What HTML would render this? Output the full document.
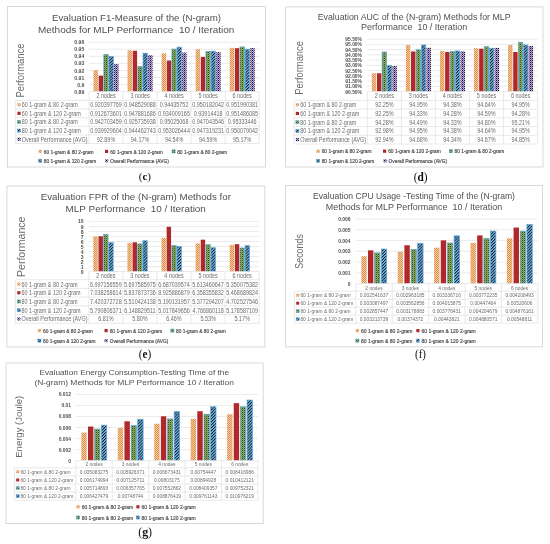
<!DOCTYPE html>
<html><head><meta charset="utf-8"><style>
html,body{margin:0;padding:0;background:#fff;}
svg{display:block;}
text{font-family:'Liberation Sans', Arial, sans-serif;white-space:pre;}
</style></head><body>
<svg width="550" height="544" viewBox="0 0 550 544">
<defs>
<pattern id="pO" width="2" height="2" patternUnits="userSpaceOnUse"><rect width="2" height="2" fill="#f9cc9c"/><rect width="1" height="1" fill="#d98f52"/><rect x="1" y="1" width="1" height="1" fill="#d98f52"/></pattern>
<pattern id="pR" width="2" height="2" patternUnits="userSpaceOnUse"><rect width="2" height="2" fill="#b0282a"/></pattern>
<pattern id="pG" width="2" height="2" patternUnits="userSpaceOnUse"><rect width="2" height="2" fill="#8aac5c"/><rect width="1" height="1" fill="#34502a"/><rect x="1" y="1" width="1" height="1" fill="#6f9048"/></pattern>
<pattern id="pB" width="2.1" height="2.1" patternUnits="userSpaceOnUse" patternTransform="rotate(45)"><rect width="2.1" height="2.1" fill="#7cc0f4"/><rect width="0.95" height="2.1" fill="#0e1822"/></pattern>
<pattern id="pP" width="2" height="2" patternUnits="userSpaceOnUse"><rect width="2" height="2" fill="#c0a4e0"/><rect width="1" height="1" fill="#120e1c"/><rect x="1" y="1" width="1" height="1" fill="#7a62a0"/></pattern>
</defs>
<rect width="550" height="544" fill="#fff"/>
<rect x="7.5" y="6.5" width="258" height="160.5" fill="#fff" stroke="#d9d9d9" stroke-width="1"/>
<text x="52.00" y="20.70" font-size="9.6" textLength="169.00" lengthAdjust="spacingAndGlyphs" fill="#505050">Evaluation F1-Measure of the (N-gram)</text>
<text x="38.00" y="33.00" font-size="9.6" textLength="196.30" lengthAdjust="spacingAndGlyphs" fill="#505050">Methods for MLP Performance  10 / Iteration</text>
<text transform="translate(24.10,97.60) rotate(-90)" x="0" y="0" font-size="10" textLength="54.10" lengthAdjust="spacingAndGlyphs" fill="#6a6a6a">Performance</text>
<line x1="89" x2="259.2" y1="42.20" y2="42.20" stroke="#e3e3e3" stroke-width="0.7"/>
<text x="84.30" y="44.29" font-size="5.8" text-anchor="end" textLength="9.93" lengthAdjust="spacingAndGlyphs" fill="#505050" font-weight="bold">0.96</text>
<line x1="89" x2="259.2" y1="49.26" y2="49.26" stroke="#e3e3e3" stroke-width="0.7"/>
<text x="84.30" y="51.35" font-size="5.8" text-anchor="end" textLength="9.93" lengthAdjust="spacingAndGlyphs" fill="#505050" font-weight="bold">0.95</text>
<line x1="89" x2="259.2" y1="56.31" y2="56.31" stroke="#e3e3e3" stroke-width="0.7"/>
<text x="84.30" y="58.40" font-size="5.8" text-anchor="end" textLength="9.93" lengthAdjust="spacingAndGlyphs" fill="#505050" font-weight="bold">0.94</text>
<line x1="89" x2="259.2" y1="63.37" y2="63.37" stroke="#e3e3e3" stroke-width="0.7"/>
<text x="84.30" y="65.46" font-size="5.8" text-anchor="end" textLength="9.93" lengthAdjust="spacingAndGlyphs" fill="#505050" font-weight="bold">0.93</text>
<line x1="89" x2="259.2" y1="70.43" y2="70.43" stroke="#e3e3e3" stroke-width="0.7"/>
<text x="84.30" y="72.52" font-size="5.8" text-anchor="end" textLength="9.93" lengthAdjust="spacingAndGlyphs" fill="#505050" font-weight="bold">0.92</text>
<line x1="89" x2="259.2" y1="77.49" y2="77.49" stroke="#e3e3e3" stroke-width="0.7"/>
<text x="84.30" y="79.57" font-size="5.8" text-anchor="end" textLength="9.93" lengthAdjust="spacingAndGlyphs" fill="#505050" font-weight="bold">0.91</text>
<line x1="89" x2="259.2" y1="84.54" y2="84.54" stroke="#e3e3e3" stroke-width="0.7"/>
<text x="84.30" y="86.63" font-size="5.8" text-anchor="end" textLength="7.10" lengthAdjust="spacingAndGlyphs" fill="#505050" font-weight="bold">0.9</text>
<text x="84.30" y="93.69" font-size="5.8" text-anchor="end" textLength="9.93" lengthAdjust="spacingAndGlyphs" fill="#505050" font-weight="bold">0.89</text>
<rect x="93.52" y="70.15" width="4.4" height="21.45" fill="url(#pO)" />
<rect x="98.67" y="75.60" width="4.4" height="16.00" fill="url(#pR)" />
<rect x="103.82" y="54.41" width="4.4" height="37.19" fill="url(#pG)" stroke="#5aa8d8" stroke-width="0.7"/>
<rect x="108.97" y="56.36" width="4.4" height="35.24" fill="url(#pB)" stroke="#5aa8d8" stroke-width="0.7"/>
<rect x="114.12" y="64.15" width="4.4" height="27.45" fill="url(#pP)" />
<rect x="127.56" y="50.30" width="4.4" height="41.30" fill="url(#pO)" />
<rect x="132.71" y="50.75" width="4.4" height="40.85" fill="url(#pR)" />
<rect x="137.86" y="66.38" width="4.4" height="25.22" fill="url(#pG)" stroke="#5aa8d8" stroke-width="0.7"/>
<rect x="143.01" y="53.16" width="4.4" height="38.44" fill="url(#pB)" stroke="#5aa8d8" stroke-width="0.7"/>
<rect x="148.16" y="55.11" width="4.4" height="36.49" fill="url(#pP)" />
<rect x="161.60" y="53.24" width="4.4" height="38.36" fill="url(#pO)" />
<rect x="166.75" y="60.54" width="4.4" height="31.06" fill="url(#pR)" />
<rect x="171.90" y="49.08" width="4.4" height="42.52" fill="url(#pG)" stroke="#5aa8d8" stroke-width="0.7"/>
<rect x="177.05" y="47.12" width="4.4" height="44.48" fill="url(#pB)" stroke="#5aa8d8" stroke-width="0.7"/>
<rect x="182.20" y="52.50" width="4.4" height="39.10" fill="url(#pP)" />
<rect x="195.64" y="49.13" width="4.4" height="42.47" fill="url(#pO)" />
<rect x="200.79" y="56.92" width="4.4" height="34.68" fill="url(#pR)" />
<rect x="205.94" y="51.34" width="4.4" height="40.26" fill="url(#pG)" stroke="#5aa8d8" stroke-width="0.7"/>
<rect x="211.09" y="51.15" width="4.4" height="40.45" fill="url(#pB)" stroke="#5aa8d8" stroke-width="0.7"/>
<rect x="216.24" y="52.15" width="4.4" height="39.45" fill="url(#pP)" />
<rect x="229.68" y="47.85" width="4.4" height="43.75" fill="url(#pO)" />
<rect x="234.83" y="48.21" width="4.4" height="43.39" fill="url(#pR)" />
<rect x="239.98" y="46.90" width="4.4" height="44.70" fill="url(#pG)" stroke="#5aa8d8" stroke-width="0.7"/>
<rect x="245.13" y="49.20" width="4.4" height="42.40" fill="url(#pB)" stroke="#5aa8d8" stroke-width="0.7"/>
<rect x="250.28" y="48.06" width="4.4" height="43.54" fill="url(#pP)" />
<g stroke="#e3e3e3" stroke-width="0.8">
<line x1="89" x2="259.2" y1="91.60" y2="91.60"/>
<line x1="15.6" x2="259.2" y1="100.40" y2="100.40"/>
<line x1="15.6" x2="259.2" y1="109.02" y2="109.02"/>
<line x1="15.6" x2="259.2" y1="117.64" y2="117.64"/>
<line x1="15.6" x2="259.2" y1="126.26" y2="126.26"/>
<line x1="15.6" x2="259.2" y1="134.88" y2="134.88"/>
<line x1="15.6" x2="259.2" y1="143.50" y2="143.50"/>
<line x1="15.6" x2="15.6" y1="100.40" y2="143.50"/>
<line x1="89.00" x2="89.00" y1="91.60" y2="143.50"/>
<line x1="123.04" x2="123.04" y1="91.60" y2="143.50"/>
<line x1="157.08" x2="157.08" y1="91.60" y2="143.50"/>
<line x1="191.12" x2="191.12" y1="91.60" y2="143.50"/>
<line x1="225.16" x2="225.16" y1="91.60" y2="143.50"/>
<line x1="259.20" x2="259.20" y1="91.60" y2="143.50"/>
</g>
<text x="106.02" y="98.39" font-size="6.3" text-anchor="middle" textLength="19.28" lengthAdjust="spacingAndGlyphs" fill="#6c6c6c">2 nodes</text>
<text x="106.02" y="107.23" font-size="6.3" text-anchor="middle" textLength="31.64" lengthAdjust="spacingAndGlyphs" fill="#6c6c6c">0.920397769</text>
<text x="106.02" y="115.85" font-size="6.3" text-anchor="middle" textLength="31.64" lengthAdjust="spacingAndGlyphs" fill="#6c6c6c">0.912673601</text>
<text x="106.02" y="124.47" font-size="6.3" text-anchor="middle" textLength="31.64" lengthAdjust="spacingAndGlyphs" fill="#6c6c6c">0.942703459</text>
<text x="106.02" y="133.09" font-size="6.3" text-anchor="middle" textLength="31.64" lengthAdjust="spacingAndGlyphs" fill="#6c6c6c">0.939929604</text>
<text x="106.02" y="141.71" font-size="6.3" text-anchor="middle" textLength="18.38" lengthAdjust="spacingAndGlyphs" fill="#6c6c6c">92.89%</text>
<text x="140.06" y="98.39" font-size="6.3" text-anchor="middle" textLength="19.28" lengthAdjust="spacingAndGlyphs" fill="#6c6c6c">3 nodes</text>
<text x="140.06" y="107.23" font-size="6.3" text-anchor="middle" textLength="31.64" lengthAdjust="spacingAndGlyphs" fill="#6c6c6c">0.948529088</text>
<text x="140.06" y="115.85" font-size="6.3" text-anchor="middle" textLength="31.64" lengthAdjust="spacingAndGlyphs" fill="#6c6c6c">0.947881686</text>
<text x="140.06" y="124.47" font-size="6.3" text-anchor="middle" textLength="31.64" lengthAdjust="spacingAndGlyphs" fill="#6c6c6c">0.925735938</text>
<text x="140.06" y="133.09" font-size="6.3" text-anchor="middle" textLength="31.64" lengthAdjust="spacingAndGlyphs" fill="#6c6c6c">0.944462743</text>
<text x="140.06" y="141.71" font-size="6.3" text-anchor="middle" textLength="18.38" lengthAdjust="spacingAndGlyphs" fill="#6c6c6c">94.17%</text>
<text x="174.10" y="98.39" font-size="6.3" text-anchor="middle" textLength="19.28" lengthAdjust="spacingAndGlyphs" fill="#6c6c6c">4 nodes</text>
<text x="174.10" y="107.23" font-size="6.3" text-anchor="middle" textLength="28.62" lengthAdjust="spacingAndGlyphs" fill="#6c6c6c">0.94435752</text>
<text x="174.10" y="115.85" font-size="6.3" text-anchor="middle" textLength="31.64" lengthAdjust="spacingAndGlyphs" fill="#6c6c6c">0.934009165</text>
<text x="174.10" y="124.47" font-size="6.3" text-anchor="middle" textLength="28.62" lengthAdjust="spacingAndGlyphs" fill="#6c6c6c">0.95025068</text>
<text x="174.10" y="133.09" font-size="6.3" text-anchor="middle" textLength="31.64" lengthAdjust="spacingAndGlyphs" fill="#6c6c6c">0.953026444</text>
<text x="174.10" y="141.71" font-size="6.3" text-anchor="middle" textLength="18.38" lengthAdjust="spacingAndGlyphs" fill="#6c6c6c">94.54%</text>
<text x="208.14" y="98.39" font-size="6.3" text-anchor="middle" textLength="19.28" lengthAdjust="spacingAndGlyphs" fill="#6c6c6c">5 nodes</text>
<text x="208.14" y="107.23" font-size="6.3" text-anchor="middle" textLength="31.64" lengthAdjust="spacingAndGlyphs" fill="#6c6c6c">0.950182042</text>
<text x="208.14" y="115.85" font-size="6.3" text-anchor="middle" textLength="28.62" lengthAdjust="spacingAndGlyphs" fill="#6c6c6c">0.93914418</text>
<text x="208.14" y="124.47" font-size="6.3" text-anchor="middle" textLength="31.64" lengthAdjust="spacingAndGlyphs" fill="#6c6c6c">0.947043546</text>
<text x="208.14" y="133.09" font-size="6.3" text-anchor="middle" textLength="31.64" lengthAdjust="spacingAndGlyphs" fill="#6c6c6c">0.947319231</text>
<text x="208.14" y="141.71" font-size="6.3" text-anchor="middle" textLength="18.38" lengthAdjust="spacingAndGlyphs" fill="#6c6c6c">94.59%</text>
<text x="242.18" y="98.39" font-size="6.3" text-anchor="middle" textLength="19.28" lengthAdjust="spacingAndGlyphs" fill="#6c6c6c">6 nodes</text>
<text x="242.18" y="107.23" font-size="6.3" text-anchor="middle" textLength="31.64" lengthAdjust="spacingAndGlyphs" fill="#6c6c6c">0.951990381</text>
<text x="242.18" y="115.85" font-size="6.3" text-anchor="middle" textLength="31.64" lengthAdjust="spacingAndGlyphs" fill="#6c6c6c">0.951486085</text>
<text x="242.18" y="124.47" font-size="6.3" text-anchor="middle" textLength="28.62" lengthAdjust="spacingAndGlyphs" fill="#6c6c6c">0.95333446</text>
<text x="242.18" y="133.09" font-size="6.3" text-anchor="middle" textLength="31.64" lengthAdjust="spacingAndGlyphs" fill="#6c6c6c">0.950079042</text>
<text x="242.18" y="141.71" font-size="6.3" text-anchor="middle" textLength="18.38" lengthAdjust="spacingAndGlyphs" fill="#6c6c6c">95.17%</text>
<rect x="17.40" y="103.11" width="3.2" height="3.2" fill="url(#pO)" />
<text x="21.80" y="107.23" font-size="6.3" textLength="56.01" lengthAdjust="spacingAndGlyphs" fill="#6c6c6c">60 1-gram &amp; 80 2-gram</text>
<rect x="17.40" y="111.73" width="3.2" height="3.2" fill="url(#pR)" />
<text x="21.80" y="115.85" font-size="6.3" textLength="59.02" lengthAdjust="spacingAndGlyphs" fill="#6c6c6c">60 1-gram &amp; 120 2-gram</text>
<rect x="17.40" y="120.35" width="3.2" height="3.2" fill="url(#pG)" stroke="#5aa8d8" stroke-width="0.5"/>
<text x="21.80" y="124.47" font-size="6.3" textLength="56.01" lengthAdjust="spacingAndGlyphs" fill="#6c6c6c">80 1-gram &amp; 80 2-gram</text>
<rect x="17.40" y="128.97" width="3.2" height="3.2" fill="url(#pB)" stroke="#5aa8d8" stroke-width="0.5"/>
<text x="21.80" y="133.09" font-size="6.3" textLength="59.02" lengthAdjust="spacingAndGlyphs" fill="#6c6c6c">80 1-gram &amp; 120 2-gram</text>
<rect x="17.40" y="137.59" width="3.2" height="3.2" fill="url(#pP)" />
<text x="21.80" y="141.71" font-size="6.3" textLength="65.84" lengthAdjust="spacingAndGlyphs" fill="#6c6c6c">Overall Performance (AVG)</text>
<rect x="38.60" y="149.80" width="3.2" height="3.2" fill="url(#pO)" />
<text x="43.80" y="153.60" font-size="6.1" textLength="49.82" lengthAdjust="spacingAndGlyphs" fill="#4a4a4a" stroke="#555" stroke-width="0.22">60 1-gram &amp; 80 2-gram</text>
<rect x="105.00" y="149.80" width="3.2" height="3.2" fill="url(#pR)" />
<text x="110.20" y="153.60" font-size="6.1" textLength="52.50" lengthAdjust="spacingAndGlyphs" fill="#4a4a4a" stroke="#555" stroke-width="0.22">60 1-gram &amp; 120 2-gram</text>
<rect x="172.00" y="149.80" width="3.2" height="3.2" fill="url(#pG)" stroke="#5aa8d8" stroke-width="0.5"/>
<text x="177.20" y="153.60" font-size="6.1" textLength="49.82" lengthAdjust="spacingAndGlyphs" fill="#4a4a4a" stroke="#555" stroke-width="0.22">80 1-gram &amp; 80 2-gram</text>
<rect x="38.60" y="159.20" width="3.2" height="3.2" fill="url(#pB)" stroke="#5aa8d8" stroke-width="0.5"/>
<text x="43.80" y="163.00" font-size="6.1" textLength="52.50" lengthAdjust="spacingAndGlyphs" fill="#4a4a4a" stroke="#555" stroke-width="0.22">80 1-gram &amp; 120 2-gram</text>
<rect x="105.00" y="159.20" width="3.2" height="3.2" fill="url(#pP)" />
<text x="110.20" y="163.00" font-size="6.1" textLength="58.56" lengthAdjust="spacingAndGlyphs" fill="#4a4a4a" stroke="#555" stroke-width="0.22">Overall Performance (AVG)</text>
<text x="138.70" y="180.24" font-size="11.22" textLength="12.30" lengthAdjust="spacingAndGlyphs" fill="#111" style="font-family:'Liberation Serif', 'Times New Roman', serif">(<tspan font-weight="bold">c</tspan>)</text>
<rect x="285.5" y="6.9" width="257.5" height="160.1" fill="#fff" stroke="#d9d9d9" stroke-width="1"/>
<text x="317.70" y="19.80" font-size="9.1" textLength="192.80" lengthAdjust="spacingAndGlyphs" fill="#505050">Evaluation AUC of the (N-gram) Methods for MLP</text>
<text x="361.00" y="30.00" font-size="9.1" textLength="106.30" lengthAdjust="spacingAndGlyphs" fill="#505050">Performance  10 / Iteration</text>
<text transform="translate(303.00,94.70) rotate(-90)" x="0" y="0" font-size="10" textLength="53.70" lengthAdjust="spacingAndGlyphs" fill="#6a6a6a">Performance</text>
<line x1="367.3" x2="537.6" y1="39.20" y2="39.20" stroke="#e3e3e3" stroke-width="0.7"/>
<text x="362.00" y="41.22" font-size="5.6" text-anchor="end" textLength="16.71" lengthAdjust="spacingAndGlyphs" fill="#505050" font-weight="bold">95.50%</text>
<line x1="367.3" x2="537.6" y1="44.44" y2="44.44" stroke="#e3e3e3" stroke-width="0.7"/>
<text x="362.00" y="46.46" font-size="5.6" text-anchor="end" textLength="16.71" lengthAdjust="spacingAndGlyphs" fill="#505050" font-weight="bold">95.00%</text>
<line x1="367.3" x2="537.6" y1="49.68" y2="49.68" stroke="#e3e3e3" stroke-width="0.7"/>
<text x="362.00" y="51.70" font-size="5.6" text-anchor="end" textLength="16.71" lengthAdjust="spacingAndGlyphs" fill="#505050" font-weight="bold">94.50%</text>
<line x1="367.3" x2="537.6" y1="54.92" y2="54.92" stroke="#e3e3e3" stroke-width="0.7"/>
<text x="362.00" y="56.94" font-size="5.6" text-anchor="end" textLength="16.71" lengthAdjust="spacingAndGlyphs" fill="#505050" font-weight="bold">94.00%</text>
<line x1="367.3" x2="537.6" y1="60.16" y2="60.16" stroke="#e3e3e3" stroke-width="0.7"/>
<text x="362.00" y="62.18" font-size="5.6" text-anchor="end" textLength="16.71" lengthAdjust="spacingAndGlyphs" fill="#505050" font-weight="bold">93.50%</text>
<line x1="367.3" x2="537.6" y1="65.40" y2="65.40" stroke="#e3e3e3" stroke-width="0.7"/>
<text x="362.00" y="67.42" font-size="5.6" text-anchor="end" textLength="16.71" lengthAdjust="spacingAndGlyphs" fill="#505050" font-weight="bold">93.00%</text>
<line x1="367.3" x2="537.6" y1="70.64" y2="70.64" stroke="#e3e3e3" stroke-width="0.7"/>
<text x="362.00" y="72.66" font-size="5.6" text-anchor="end" textLength="16.71" lengthAdjust="spacingAndGlyphs" fill="#505050" font-weight="bold">92.50%</text>
<line x1="367.3" x2="537.6" y1="75.88" y2="75.88" stroke="#e3e3e3" stroke-width="0.7"/>
<text x="362.00" y="77.90" font-size="5.6" text-anchor="end" textLength="16.71" lengthAdjust="spacingAndGlyphs" fill="#505050" font-weight="bold">92.00%</text>
<line x1="367.3" x2="537.6" y1="81.12" y2="81.12" stroke="#e3e3e3" stroke-width="0.7"/>
<text x="362.00" y="83.14" font-size="5.6" text-anchor="end" textLength="16.71" lengthAdjust="spacingAndGlyphs" fill="#505050" font-weight="bold">91.50%</text>
<line x1="367.3" x2="537.6" y1="86.36" y2="86.36" stroke="#e3e3e3" stroke-width="0.7"/>
<text x="362.00" y="88.38" font-size="5.6" text-anchor="end" textLength="16.71" lengthAdjust="spacingAndGlyphs" fill="#505050" font-weight="bold">91.00%</text>
<text x="362.00" y="93.62" font-size="5.6" text-anchor="end" textLength="16.71" lengthAdjust="spacingAndGlyphs" fill="#505050" font-weight="bold">90.50%</text>
<rect x="371.83" y="73.26" width="4.4" height="18.34" fill="url(#pO)" />
<rect x="376.98" y="73.26" width="4.4" height="18.34" fill="url(#pR)" />
<rect x="382.13" y="51.99" width="4.4" height="39.61" fill="url(#pG)" stroke="#5aa8d8" stroke-width="0.7"/>
<rect x="387.28" y="65.61" width="4.4" height="25.99" fill="url(#pB)" stroke="#5aa8d8" stroke-width="0.7"/>
<rect x="392.43" y="66.03" width="4.4" height="25.57" fill="url(#pP)" />
<rect x="405.89" y="44.96" width="4.4" height="46.64" fill="url(#pO)" />
<rect x="411.04" y="51.46" width="4.4" height="40.14" fill="url(#pR)" />
<rect x="416.19" y="49.78" width="4.4" height="41.82" fill="url(#pG)" stroke="#5aa8d8" stroke-width="0.7"/>
<rect x="421.34" y="44.96" width="4.4" height="46.64" fill="url(#pB)" stroke="#5aa8d8" stroke-width="0.7"/>
<rect x="426.49" y="47.79" width="4.4" height="43.81" fill="url(#pP)" />
<rect x="439.95" y="50.94" width="4.4" height="40.66" fill="url(#pO)" />
<rect x="445.10" y="51.99" width="4.4" height="39.61" fill="url(#pR)" />
<rect x="450.25" y="51.46" width="4.4" height="40.14" fill="url(#pG)" stroke="#5aa8d8" stroke-width="0.7"/>
<rect x="455.40" y="50.94" width="4.4" height="40.66" fill="url(#pB)" stroke="#5aa8d8" stroke-width="0.7"/>
<rect x="460.55" y="51.36" width="4.4" height="40.24" fill="url(#pP)" />
<rect x="474.01" y="48.21" width="4.4" height="43.39" fill="url(#pO)" />
<rect x="479.16" y="48.74" width="4.4" height="42.86" fill="url(#pR)" />
<rect x="484.31" y="46.54" width="4.4" height="45.06" fill="url(#pG)" stroke="#5aa8d8" stroke-width="0.7"/>
<rect x="489.46" y="48.21" width="4.4" height="43.39" fill="url(#pB)" stroke="#5aa8d8" stroke-width="0.7"/>
<rect x="494.61" y="47.90" width="4.4" height="43.70" fill="url(#pP)" />
<rect x="508.07" y="44.96" width="4.4" height="46.64" fill="url(#pO)" />
<rect x="513.22" y="51.99" width="4.4" height="39.61" fill="url(#pR)" />
<rect x="518.37" y="42.24" width="4.4" height="49.36" fill="url(#pG)" stroke="#5aa8d8" stroke-width="0.7"/>
<rect x="523.52" y="44.96" width="4.4" height="46.64" fill="url(#pB)" stroke="#5aa8d8" stroke-width="0.7"/>
<rect x="528.67" y="46.01" width="4.4" height="45.59" fill="url(#pP)" />
<g stroke="#e3e3e3" stroke-width="0.8">
<line x1="367.3" x2="537.6" y1="91.60" y2="91.60"/>
<line x1="294" x2="537.6" y1="100.40" y2="100.40"/>
<line x1="294" x2="537.6" y1="109.12" y2="109.12"/>
<line x1="294" x2="537.6" y1="117.84" y2="117.84"/>
<line x1="294" x2="537.6" y1="126.56" y2="126.56"/>
<line x1="294" x2="537.6" y1="135.28" y2="135.28"/>
<line x1="294" x2="537.6" y1="144.00" y2="144.00"/>
<line x1="294" x2="294" y1="100.40" y2="144.00"/>
<line x1="367.30" x2="367.30" y1="91.60" y2="144.00"/>
<line x1="401.36" x2="401.36" y1="91.60" y2="144.00"/>
<line x1="435.42" x2="435.42" y1="91.60" y2="144.00"/>
<line x1="469.48" x2="469.48" y1="91.60" y2="144.00"/>
<line x1="503.54" x2="503.54" y1="91.60" y2="144.00"/>
<line x1="537.60" x2="537.60" y1="91.60" y2="144.00"/>
</g>
<text x="384.33" y="98.39" font-size="6.3" text-anchor="middle" textLength="19.28" lengthAdjust="spacingAndGlyphs" fill="#6c6c6c">2 nodes</text>
<text x="384.33" y="107.28" font-size="6.3" text-anchor="middle" textLength="18.38" lengthAdjust="spacingAndGlyphs" fill="#6c6c6c">92.25%</text>
<text x="384.33" y="116.00" font-size="6.3" text-anchor="middle" textLength="18.38" lengthAdjust="spacingAndGlyphs" fill="#6c6c6c">92.25%</text>
<text x="384.33" y="124.72" font-size="6.3" text-anchor="middle" textLength="18.38" lengthAdjust="spacingAndGlyphs" fill="#6c6c6c">94.28%</text>
<text x="384.33" y="133.44" font-size="6.3" text-anchor="middle" textLength="18.38" lengthAdjust="spacingAndGlyphs" fill="#6c6c6c">92.98%</text>
<text x="384.33" y="142.16" font-size="6.3" text-anchor="middle" textLength="18.38" lengthAdjust="spacingAndGlyphs" fill="#6c6c6c">92.94%</text>
<text x="418.39" y="98.39" font-size="6.3" text-anchor="middle" textLength="19.28" lengthAdjust="spacingAndGlyphs" fill="#6c6c6c">3 nodes</text>
<text x="418.39" y="107.28" font-size="6.3" text-anchor="middle" textLength="18.38" lengthAdjust="spacingAndGlyphs" fill="#6c6c6c">94.95%</text>
<text x="418.39" y="116.00" font-size="6.3" text-anchor="middle" textLength="18.38" lengthAdjust="spacingAndGlyphs" fill="#6c6c6c">94.33%</text>
<text x="418.39" y="124.72" font-size="6.3" text-anchor="middle" textLength="18.38" lengthAdjust="spacingAndGlyphs" fill="#6c6c6c">94.49%</text>
<text x="418.39" y="133.44" font-size="6.3" text-anchor="middle" textLength="18.38" lengthAdjust="spacingAndGlyphs" fill="#6c6c6c">94.95%</text>
<text x="418.39" y="142.16" font-size="6.3" text-anchor="middle" textLength="18.38" lengthAdjust="spacingAndGlyphs" fill="#6c6c6c">94.68%</text>
<text x="452.45" y="98.39" font-size="6.3" text-anchor="middle" textLength="19.28" lengthAdjust="spacingAndGlyphs" fill="#6c6c6c">4 nodes</text>
<text x="452.45" y="107.28" font-size="6.3" text-anchor="middle" textLength="18.38" lengthAdjust="spacingAndGlyphs" fill="#6c6c6c">94.38%</text>
<text x="452.45" y="116.00" font-size="6.3" text-anchor="middle" textLength="18.38" lengthAdjust="spacingAndGlyphs" fill="#6c6c6c">94.28%</text>
<text x="452.45" y="124.72" font-size="6.3" text-anchor="middle" textLength="18.38" lengthAdjust="spacingAndGlyphs" fill="#6c6c6c">94.33%</text>
<text x="452.45" y="133.44" font-size="6.3" text-anchor="middle" textLength="18.38" lengthAdjust="spacingAndGlyphs" fill="#6c6c6c">94.38%</text>
<text x="452.45" y="142.16" font-size="6.3" text-anchor="middle" textLength="18.38" lengthAdjust="spacingAndGlyphs" fill="#6c6c6c">94.34%</text>
<text x="486.51" y="98.39" font-size="6.3" text-anchor="middle" textLength="19.28" lengthAdjust="spacingAndGlyphs" fill="#6c6c6c">5 nodes</text>
<text x="486.51" y="107.28" font-size="6.3" text-anchor="middle" textLength="18.38" lengthAdjust="spacingAndGlyphs" fill="#6c6c6c">94.64%</text>
<text x="486.51" y="116.00" font-size="6.3" text-anchor="middle" textLength="18.38" lengthAdjust="spacingAndGlyphs" fill="#6c6c6c">94.59%</text>
<text x="486.51" y="124.72" font-size="6.3" text-anchor="middle" textLength="18.38" lengthAdjust="spacingAndGlyphs" fill="#6c6c6c">94.80%</text>
<text x="486.51" y="133.44" font-size="6.3" text-anchor="middle" textLength="18.38" lengthAdjust="spacingAndGlyphs" fill="#6c6c6c">94.64%</text>
<text x="486.51" y="142.16" font-size="6.3" text-anchor="middle" textLength="18.38" lengthAdjust="spacingAndGlyphs" fill="#6c6c6c">94.67%</text>
<text x="520.57" y="98.39" font-size="6.3" text-anchor="middle" textLength="19.28" lengthAdjust="spacingAndGlyphs" fill="#6c6c6c">6 nodes</text>
<text x="520.57" y="107.28" font-size="6.3" text-anchor="middle" textLength="18.38" lengthAdjust="spacingAndGlyphs" fill="#6c6c6c">94.95%</text>
<text x="520.57" y="116.00" font-size="6.3" text-anchor="middle" textLength="18.38" lengthAdjust="spacingAndGlyphs" fill="#6c6c6c">94.28%</text>
<text x="520.57" y="124.72" font-size="6.3" text-anchor="middle" textLength="18.38" lengthAdjust="spacingAndGlyphs" fill="#6c6c6c">95.21%</text>
<text x="520.57" y="133.44" font-size="6.3" text-anchor="middle" textLength="18.38" lengthAdjust="spacingAndGlyphs" fill="#6c6c6c">94.95%</text>
<text x="520.57" y="142.16" font-size="6.3" text-anchor="middle" textLength="18.38" lengthAdjust="spacingAndGlyphs" fill="#6c6c6c">94.85%</text>
<rect x="295.80" y="103.16" width="3.2" height="3.2" fill="url(#pO)" />
<text x="300.20" y="107.28" font-size="6.3" textLength="56.01" lengthAdjust="spacingAndGlyphs" fill="#6c6c6c">60 1-gram &amp; 80 2-gram</text>
<rect x="295.80" y="111.88" width="3.2" height="3.2" fill="url(#pR)" />
<text x="300.20" y="116.00" font-size="6.3" textLength="59.02" lengthAdjust="spacingAndGlyphs" fill="#6c6c6c">60 1-gram &amp; 120 2-gram</text>
<rect x="295.80" y="120.60" width="3.2" height="3.2" fill="url(#pG)" stroke="#5aa8d8" stroke-width="0.5"/>
<text x="300.20" y="124.72" font-size="6.3" textLength="56.01" lengthAdjust="spacingAndGlyphs" fill="#6c6c6c">80 1-gram &amp; 80 2-gram</text>
<rect x="295.80" y="129.32" width="3.2" height="3.2" fill="url(#pB)" stroke="#5aa8d8" stroke-width="0.5"/>
<text x="300.20" y="133.44" font-size="6.3" textLength="59.02" lengthAdjust="spacingAndGlyphs" fill="#6c6c6c">80 1-gram &amp; 120 2-gram</text>
<rect x="295.80" y="138.04" width="3.2" height="3.2" fill="url(#pP)" />
<text x="300.20" y="142.16" font-size="6.3" textLength="65.84" lengthAdjust="spacingAndGlyphs" fill="#6c6c6c">Overall Performance (AVG)</text>
<rect x="316.50" y="149.60" width="3.2" height="3.2" fill="url(#pO)" />
<text x="321.70" y="153.40" font-size="6.1" textLength="49.82" lengthAdjust="spacingAndGlyphs" fill="#4a4a4a" stroke="#555" stroke-width="0.22">60 1-gram &amp; 80 2-gram</text>
<rect x="383.00" y="149.60" width="3.2" height="3.2" fill="url(#pR)" />
<text x="388.20" y="153.40" font-size="6.1" textLength="52.50" lengthAdjust="spacingAndGlyphs" fill="#4a4a4a" stroke="#555" stroke-width="0.22">60 1-gram &amp; 120 2-gram</text>
<rect x="449.30" y="149.60" width="3.2" height="3.2" fill="url(#pG)" stroke="#5aa8d8" stroke-width="0.5"/>
<text x="454.50" y="153.40" font-size="6.1" textLength="49.82" lengthAdjust="spacingAndGlyphs" fill="#4a4a4a" stroke="#555" stroke-width="0.22">80 1-gram &amp; 80 2-gram</text>
<rect x="316.50" y="159.20" width="3.2" height="3.2" fill="url(#pB)" stroke="#5aa8d8" stroke-width="0.5"/>
<text x="321.70" y="163.00" font-size="6.1" textLength="52.50" lengthAdjust="spacingAndGlyphs" fill="#4a4a4a" stroke="#555" stroke-width="0.22">80 1-gram &amp; 120 2-gram</text>
<rect x="383.40" y="159.20" width="3.2" height="3.2" fill="url(#pP)" />
<text x="388.60" y="163.00" font-size="6.1" textLength="58.56" lengthAdjust="spacingAndGlyphs" fill="#4a4a4a" stroke="#555" stroke-width="0.22">Overall Performance (AVG)</text>
<text x="413.70" y="180.57" font-size="11.56" textLength="13.90" lengthAdjust="spacingAndGlyphs" fill="#111" style="font-family:'Liberation Serif', 'Times New Roman', serif">(<tspan font-weight="bold">d</tspan>)</text>
<rect x="6.9" y="186.1" width="257.90000000000003" height="160.9" fill="#fff" stroke="#d9d9d9" stroke-width="1"/>
<text x="40.70" y="199.80" font-size="9.5" textLength="190.20" lengthAdjust="spacingAndGlyphs" fill="#505050">Evaluation FPR of the (N-gram) Methods for</text>
<text x="65.60" y="212.10" font-size="9.5" textLength="140.30" lengthAdjust="spacingAndGlyphs" fill="#505050">MLP Performance  10 / Iteration</text>
<text transform="translate(24.50,277.00) rotate(-90)" x="0" y="0" font-size="10.5" textLength="60.40" lengthAdjust="spacingAndGlyphs" fill="#6a6a6a">Performance</text>
<line x1="88.8" x2="259.2" y1="221.40" y2="221.40" stroke="#e3e3e3" stroke-width="0.7"/>
<text x="83.60" y="223.49" font-size="5.8" text-anchor="end" textLength="5.68" lengthAdjust="spacingAndGlyphs" fill="#505050" font-weight="bold">10</text>
<line x1="88.8" x2="259.2" y1="226.42" y2="226.42" stroke="#e3e3e3" stroke-width="0.7"/>
<text x="83.60" y="228.51" font-size="5.8" text-anchor="end" textLength="2.84" lengthAdjust="spacingAndGlyphs" fill="#505050" font-weight="bold">9</text>
<line x1="88.8" x2="259.2" y1="231.44" y2="231.44" stroke="#e3e3e3" stroke-width="0.7"/>
<text x="83.60" y="233.53" font-size="5.8" text-anchor="end" textLength="2.84" lengthAdjust="spacingAndGlyphs" fill="#505050" font-weight="bold">8</text>
<line x1="88.8" x2="259.2" y1="236.46" y2="236.46" stroke="#e3e3e3" stroke-width="0.7"/>
<text x="83.60" y="238.55" font-size="5.8" text-anchor="end" textLength="2.84" lengthAdjust="spacingAndGlyphs" fill="#505050" font-weight="bold">7</text>
<line x1="88.8" x2="259.2" y1="241.48" y2="241.48" stroke="#e3e3e3" stroke-width="0.7"/>
<text x="83.60" y="243.57" font-size="5.8" text-anchor="end" textLength="2.84" lengthAdjust="spacingAndGlyphs" fill="#505050" font-weight="bold">6</text>
<line x1="88.8" x2="259.2" y1="246.50" y2="246.50" stroke="#e3e3e3" stroke-width="0.7"/>
<text x="83.60" y="248.59" font-size="5.8" text-anchor="end" textLength="2.84" lengthAdjust="spacingAndGlyphs" fill="#505050" font-weight="bold">5</text>
<line x1="88.8" x2="259.2" y1="251.52" y2="251.52" stroke="#e3e3e3" stroke-width="0.7"/>
<text x="83.60" y="253.61" font-size="5.8" text-anchor="end" textLength="2.84" lengthAdjust="spacingAndGlyphs" fill="#505050" font-weight="bold">4</text>
<line x1="88.8" x2="259.2" y1="256.54" y2="256.54" stroke="#e3e3e3" stroke-width="0.7"/>
<text x="83.60" y="258.63" font-size="5.8" text-anchor="end" textLength="2.84" lengthAdjust="spacingAndGlyphs" fill="#505050" font-weight="bold">3</text>
<line x1="88.8" x2="259.2" y1="261.56" y2="261.56" stroke="#e3e3e3" stroke-width="0.7"/>
<text x="83.60" y="263.65" font-size="5.8" text-anchor="end" textLength="2.84" lengthAdjust="spacingAndGlyphs" fill="#505050" font-weight="bold">2</text>
<line x1="88.8" x2="259.2" y1="266.58" y2="266.58" stroke="#e3e3e3" stroke-width="0.7"/>
<text x="83.60" y="268.67" font-size="5.8" text-anchor="end" textLength="2.84" lengthAdjust="spacingAndGlyphs" fill="#505050" font-weight="bold">1</text>
<text x="83.60" y="273.69" font-size="5.8" text-anchor="end" textLength="2.84" lengthAdjust="spacingAndGlyphs" fill="#505050" font-weight="bold">0</text>
<rect x="93.34" y="236.47" width="4.4" height="35.13" fill="url(#pO)" />
<rect x="98.49" y="236.27" width="4.4" height="35.33" fill="url(#pR)" />
<rect x="103.64" y="234.35" width="4.4" height="37.25" fill="url(#pG)" stroke="#5aa8d8" stroke-width="0.7"/>
<rect x="108.79" y="242.53" width="4.4" height="29.07" fill="url(#pB)" stroke="#5aa8d8" stroke-width="0.7"/>
<rect x="113.94" y="271.26" width="4.4" height="0.34" fill="url(#pP)" />
<rect x="127.42" y="243.00" width="4.4" height="28.60" fill="url(#pO)" />
<rect x="132.57" y="242.29" width="4.4" height="29.31" fill="url(#pR)" />
<rect x="137.72" y="243.94" width="4.4" height="27.66" fill="url(#pG)" stroke="#5aa8d8" stroke-width="0.7"/>
<rect x="142.87" y="240.73" width="4.4" height="30.87" fill="url(#pB)" stroke="#5aa8d8" stroke-width="0.7"/>
<rect x="148.02" y="271.31" width="4.4" height="0.29" fill="url(#pP)" />
<rect x="161.50" y="238.03" width="4.4" height="33.57" fill="url(#pO)" />
<rect x="166.65" y="226.79" width="4.4" height="44.81" fill="url(#pR)" />
<rect x="171.80" y="245.55" width="4.4" height="26.05" fill="url(#pG)" stroke="#5aa8d8" stroke-width="0.7"/>
<rect x="176.95" y="246.41" width="4.4" height="25.19" fill="url(#pB)" stroke="#5aa8d8" stroke-width="0.7"/>
<rect x="182.10" y="271.28" width="4.4" height="0.32" fill="url(#pP)" />
<rect x="195.58" y="243.42" width="4.4" height="28.18" fill="url(#pO)" />
<rect x="200.73" y="239.68" width="4.4" height="31.92" fill="url(#pR)" />
<rect x="205.88" y="244.61" width="4.4" height="26.99" fill="url(#pG)" stroke="#5aa8d8" stroke-width="0.7"/>
<rect x="211.03" y="247.67" width="4.4" height="23.93" fill="url(#pB)" stroke="#5aa8d8" stroke-width="0.7"/>
<rect x="216.18" y="271.32" width="4.4" height="0.28" fill="url(#pP)" />
<rect x="229.66" y="244.74" width="4.4" height="26.86" fill="url(#pO)" />
<rect x="234.81" y="244.15" width="4.4" height="27.45" fill="url(#pR)" />
<rect x="239.96" y="247.99" width="4.4" height="23.61" fill="url(#pG)" stroke="#5aa8d8" stroke-width="0.7"/>
<rect x="245.11" y="245.60" width="4.4" height="26.00" fill="url(#pB)" stroke="#5aa8d8" stroke-width="0.7"/>
<rect x="250.26" y="271.34" width="4.4" height="0.26" fill="url(#pP)" />
<g stroke="#e3e3e3" stroke-width="0.8">
<line x1="88.8" x2="259.2" y1="271.60" y2="271.60"/>
<line x1="15.4" x2="259.2" y1="279.70" y2="279.70"/>
<line x1="15.4" x2="259.2" y1="288.42" y2="288.42"/>
<line x1="15.4" x2="259.2" y1="297.14" y2="297.14"/>
<line x1="15.4" x2="259.2" y1="305.86" y2="305.86"/>
<line x1="15.4" x2="259.2" y1="314.58" y2="314.58"/>
<line x1="15.4" x2="259.2" y1="323.30" y2="323.30"/>
<line x1="15.4" x2="15.4" y1="279.70" y2="323.30"/>
<line x1="88.80" x2="88.80" y1="271.60" y2="323.30"/>
<line x1="122.88" x2="122.88" y1="271.60" y2="323.30"/>
<line x1="156.96" x2="156.96" y1="271.60" y2="323.30"/>
<line x1="191.04" x2="191.04" y1="271.60" y2="323.30"/>
<line x1="225.12" x2="225.12" y1="271.60" y2="323.30"/>
<line x1="259.20" x2="259.20" y1="271.60" y2="323.30"/>
</g>
<text x="105.84" y="278.04" font-size="6.3" text-anchor="middle" textLength="19.28" lengthAdjust="spacingAndGlyphs" fill="#6c6c6c">2 nodes</text>
<text x="105.84" y="286.58" font-size="6.3" text-anchor="middle" textLength="31.64" lengthAdjust="spacingAndGlyphs" fill="#6c6c6c">6.997156559</text>
<text x="105.84" y="295.30" font-size="6.3" text-anchor="middle" textLength="31.64" lengthAdjust="spacingAndGlyphs" fill="#6c6c6c">7.038258614</text>
<text x="105.84" y="304.02" font-size="6.3" text-anchor="middle" textLength="31.64" lengthAdjust="spacingAndGlyphs" fill="#6c6c6c">7.420372728</text>
<text x="105.84" y="312.74" font-size="6.3" text-anchor="middle" textLength="31.64" lengthAdjust="spacingAndGlyphs" fill="#6c6c6c">5.790806371</text>
<text x="105.84" y="321.46" font-size="6.3" text-anchor="middle" textLength="15.36" lengthAdjust="spacingAndGlyphs" fill="#6c6c6c">6.81%</text>
<text x="139.92" y="278.04" font-size="6.3" text-anchor="middle" textLength="19.28" lengthAdjust="spacingAndGlyphs" fill="#6c6c6c">3 nodes</text>
<text x="139.92" y="286.58" font-size="6.3" text-anchor="middle" textLength="31.64" lengthAdjust="spacingAndGlyphs" fill="#6c6c6c">5.697585975</text>
<text x="139.92" y="295.30" font-size="6.3" text-anchor="middle" textLength="31.64" lengthAdjust="spacingAndGlyphs" fill="#6c6c6c">5.837873736</text>
<text x="139.92" y="304.02" font-size="6.3" text-anchor="middle" textLength="31.64" lengthAdjust="spacingAndGlyphs" fill="#6c6c6c">5.510424138</text>
<text x="139.92" y="312.74" font-size="6.3" text-anchor="middle" textLength="31.24" lengthAdjust="spacingAndGlyphs" fill="#6c6c6c">6.148829511</text>
<text x="139.92" y="321.46" font-size="6.3" text-anchor="middle" textLength="15.36" lengthAdjust="spacingAndGlyphs" fill="#6c6c6c">5.80%</text>
<text x="174.00" y="278.04" font-size="6.3" text-anchor="middle" textLength="19.28" lengthAdjust="spacingAndGlyphs" fill="#6c6c6c">4 nodes</text>
<text x="174.00" y="286.58" font-size="6.3" text-anchor="middle" textLength="31.64" lengthAdjust="spacingAndGlyphs" fill="#6c6c6c">6.687039574</text>
<text x="174.00" y="295.30" font-size="6.3" text-anchor="middle" textLength="31.64" lengthAdjust="spacingAndGlyphs" fill="#6c6c6c">8.925886879</text>
<text x="174.00" y="304.02" font-size="6.3" text-anchor="middle" textLength="31.64" lengthAdjust="spacingAndGlyphs" fill="#6c6c6c">5.190131957</text>
<text x="174.00" y="312.74" font-size="6.3" text-anchor="middle" textLength="31.64" lengthAdjust="spacingAndGlyphs" fill="#6c6c6c">5.017849656</text>
<text x="174.00" y="321.46" font-size="6.3" text-anchor="middle" textLength="15.36" lengthAdjust="spacingAndGlyphs" fill="#6c6c6c">6.46%</text>
<text x="208.08" y="278.04" font-size="6.3" text-anchor="middle" textLength="19.28" lengthAdjust="spacingAndGlyphs" fill="#6c6c6c">5 nodes</text>
<text x="208.08" y="286.58" font-size="6.3" text-anchor="middle" textLength="31.64" lengthAdjust="spacingAndGlyphs" fill="#6c6c6c">5.613460647</text>
<text x="208.08" y="295.30" font-size="6.3" text-anchor="middle" textLength="31.64" lengthAdjust="spacingAndGlyphs" fill="#6c6c6c">6.358355832</text>
<text x="208.08" y="304.02" font-size="6.3" text-anchor="middle" textLength="31.64" lengthAdjust="spacingAndGlyphs" fill="#6c6c6c">5.377294207</text>
<text x="208.08" y="312.74" font-size="6.3" text-anchor="middle" textLength="31.24" lengthAdjust="spacingAndGlyphs" fill="#6c6c6c">4.766860118</text>
<text x="208.08" y="321.46" font-size="6.3" text-anchor="middle" textLength="15.36" lengthAdjust="spacingAndGlyphs" fill="#6c6c6c">5.53%</text>
<text x="242.16" y="278.04" font-size="6.3" text-anchor="middle" textLength="19.28" lengthAdjust="spacingAndGlyphs" fill="#6c6c6c">6 nodes</text>
<text x="242.16" y="286.58" font-size="6.3" text-anchor="middle" textLength="31.64" lengthAdjust="spacingAndGlyphs" fill="#6c6c6c">5.350075382</text>
<text x="242.16" y="295.30" font-size="6.3" text-anchor="middle" textLength="31.64" lengthAdjust="spacingAndGlyphs" fill="#6c6c6c">5.468689824</text>
<text x="242.16" y="304.02" font-size="6.3" text-anchor="middle" textLength="31.64" lengthAdjust="spacingAndGlyphs" fill="#6c6c6c">4.702527546</text>
<text x="242.16" y="312.74" font-size="6.3" text-anchor="middle" textLength="31.64" lengthAdjust="spacingAndGlyphs" fill="#6c6c6c">5.178587109</text>
<text x="242.16" y="321.46" font-size="6.3" text-anchor="middle" textLength="15.36" lengthAdjust="spacingAndGlyphs" fill="#6c6c6c">5.17%</text>
<rect x="17.20" y="282.46" width="3.2" height="3.2" fill="url(#pO)" />
<text x="21.60" y="286.58" font-size="6.3" textLength="56.01" lengthAdjust="spacingAndGlyphs" fill="#6c6c6c">60 1-gram &amp; 80 2-gram</text>
<rect x="17.20" y="291.18" width="3.2" height="3.2" fill="url(#pR)" />
<text x="21.60" y="295.30" font-size="6.3" textLength="59.02" lengthAdjust="spacingAndGlyphs" fill="#6c6c6c">60 1-gram &amp; 120 2-gram</text>
<rect x="17.20" y="299.90" width="3.2" height="3.2" fill="url(#pG)" stroke="#5aa8d8" stroke-width="0.5"/>
<text x="21.60" y="304.02" font-size="6.3" textLength="56.01" lengthAdjust="spacingAndGlyphs" fill="#6c6c6c">80 1-gram &amp; 80 2-gram</text>
<rect x="17.20" y="308.62" width="3.2" height="3.2" fill="url(#pB)" stroke="#5aa8d8" stroke-width="0.5"/>
<text x="21.60" y="312.74" font-size="6.3" textLength="59.02" lengthAdjust="spacingAndGlyphs" fill="#6c6c6c">80 1-gram &amp; 120 2-gram</text>
<rect x="17.20" y="317.34" width="3.2" height="3.2" fill="url(#pP)" />
<text x="21.60" y="321.46" font-size="6.3" textLength="65.84" lengthAdjust="spacingAndGlyphs" fill="#6c6c6c">Overall Performance (AVG)</text>
<rect x="37.80" y="329.00" width="3.2" height="3.2" fill="url(#pO)" />
<text x="43.00" y="332.80" font-size="6.1" textLength="49.82" lengthAdjust="spacingAndGlyphs" fill="#4a4a4a" stroke="#555" stroke-width="0.22">60 1-gram &amp; 80 2-gram</text>
<rect x="104.50" y="329.00" width="3.2" height="3.2" fill="url(#pR)" />
<text x="109.70" y="332.80" font-size="6.1" textLength="52.50" lengthAdjust="spacingAndGlyphs" fill="#4a4a4a" stroke="#555" stroke-width="0.22">60 1-gram &amp; 120 2-gram</text>
<rect x="170.80" y="329.00" width="3.2" height="3.2" fill="url(#pG)" stroke="#5aa8d8" stroke-width="0.5"/>
<text x="176.00" y="332.80" font-size="6.1" textLength="49.82" lengthAdjust="spacingAndGlyphs" fill="#4a4a4a" stroke="#555" stroke-width="0.22">80 1-gram &amp; 80 2-gram</text>
<rect x="37.80" y="339.00" width="3.2" height="3.2" fill="url(#pB)" stroke="#5aa8d8" stroke-width="0.5"/>
<text x="43.00" y="342.80" font-size="6.1" textLength="52.50" lengthAdjust="spacingAndGlyphs" fill="#4a4a4a" stroke="#555" stroke-width="0.22">80 1-gram &amp; 120 2-gram</text>
<rect x="104.50" y="339.00" width="3.2" height="3.2" fill="url(#pP)" />
<text x="109.70" y="342.80" font-size="6.1" textLength="58.56" lengthAdjust="spacingAndGlyphs" fill="#4a4a4a" stroke="#555" stroke-width="0.22">Overall Performance (AVG)</text>
<text x="138.70" y="358.33" font-size="11.78" textLength="12.60" lengthAdjust="spacingAndGlyphs" fill="#111" style="font-family:'Liberation Serif', 'Times New Roman', serif">(<tspan font-weight="bold">e</tspan>)</text>
<rect x="285.5" y="185.5" width="257" height="161.3" fill="#fff" stroke="#d9d9d9" stroke-width="1"/>
<text x="313.00" y="198.60" font-size="9.1" textLength="202.00" lengthAdjust="spacingAndGlyphs" fill="#505050">Evaluation CPU Usage -Testing Time of the (N-gram)</text>
<text x="325.80" y="209.50" font-size="9.1" textLength="176.50" lengthAdjust="spacingAndGlyphs" fill="#505050">Methods for MLP Performance  10 / Iteration</text>
<text transform="translate(303.40,268.70) rotate(-90)" x="0" y="0" font-size="10" textLength="34.60" lengthAdjust="spacingAndGlyphs" fill="#6a6a6a">Seconds</text>
<line x1="355.8" x2="537.8" y1="219.00" y2="219.00" stroke="#e3e3e3" stroke-width="0.7"/>
<text x="350.50" y="221.02" font-size="5.6" text-anchor="end" textLength="12.33" lengthAdjust="spacingAndGlyphs" fill="#505050" font-weight="bold">0.006</text>
<line x1="355.8" x2="537.8" y1="229.77" y2="229.77" stroke="#e3e3e3" stroke-width="0.7"/>
<text x="350.50" y="231.78" font-size="5.6" text-anchor="end" textLength="12.33" lengthAdjust="spacingAndGlyphs" fill="#505050" font-weight="bold">0.005</text>
<line x1="355.8" x2="537.8" y1="240.53" y2="240.53" stroke="#e3e3e3" stroke-width="0.7"/>
<text x="350.50" y="242.55" font-size="5.6" text-anchor="end" textLength="12.33" lengthAdjust="spacingAndGlyphs" fill="#505050" font-weight="bold">0.004</text>
<line x1="355.8" x2="537.8" y1="251.30" y2="251.30" stroke="#e3e3e3" stroke-width="0.7"/>
<text x="350.50" y="253.32" font-size="5.6" text-anchor="end" textLength="12.33" lengthAdjust="spacingAndGlyphs" fill="#505050" font-weight="bold">0.003</text>
<line x1="355.8" x2="537.8" y1="262.07" y2="262.07" stroke="#e3e3e3" stroke-width="0.7"/>
<text x="350.50" y="264.08" font-size="5.6" text-anchor="end" textLength="12.33" lengthAdjust="spacingAndGlyphs" fill="#505050" font-weight="bold">0.002</text>
<line x1="355.8" x2="537.8" y1="272.83" y2="272.83" stroke="#e3e3e3" stroke-width="0.7"/>
<text x="350.50" y="274.85" font-size="5.6" text-anchor="end" textLength="12.33" lengthAdjust="spacingAndGlyphs" fill="#505050" font-weight="bold">0.001</text>
<text x="350.50" y="285.62" font-size="5.6" text-anchor="end" textLength="2.74" lengthAdjust="spacingAndGlyphs" fill="#505050" font-weight="bold">0</text>
<rect x="361.32" y="256.24" width="5.4" height="27.36" fill="url(#pO)" />
<rect x="367.97" y="250.36" width="5.4" height="33.24" fill="url(#pR)" />
<rect x="374.62" y="252.83" width="5.4" height="30.77" fill="url(#pG)" stroke="#5aa8d8" stroke-width="0.7"/>
<rect x="381.27" y="249.00" width="5.4" height="34.60" fill="url(#pB)" stroke="#5aa8d8" stroke-width="0.7"/>
<rect x="397.72" y="251.70" width="5.4" height="31.90" fill="url(#pO)" />
<rect x="404.37" y="245.24" width="5.4" height="38.36" fill="url(#pR)" />
<rect x="411.02" y="249.37" width="5.4" height="34.23" fill="url(#pG)" stroke="#5aa8d8" stroke-width="0.7"/>
<rect x="417.67" y="243.29" width="5.4" height="40.31" fill="url(#pB)" stroke="#5aa8d8" stroke-width="0.7"/>
<rect x="434.12" y="247.67" width="5.4" height="35.93" fill="url(#pO)" />
<rect x="440.77" y="240.36" width="5.4" height="43.24" fill="url(#pR)" />
<rect x="447.42" y="242.94" width="5.4" height="40.66" fill="url(#pG)" stroke="#5aa8d8" stroke-width="0.7"/>
<rect x="454.07" y="235.82" width="5.4" height="47.78" fill="url(#pB)" stroke="#5aa8d8" stroke-width="0.7"/>
<rect x="470.52" y="242.99" width="5.4" height="40.61" fill="url(#pO)" />
<rect x="477.17" y="235.42" width="5.4" height="48.18" fill="url(#pR)" />
<rect x="483.82" y="238.33" width="5.4" height="45.27" fill="url(#pG)" stroke="#5aa8d8" stroke-width="0.7"/>
<rect x="490.47" y="231.05" width="5.4" height="52.55" fill="url(#pB)" stroke="#5aa8d8" stroke-width="0.7"/>
<rect x="506.92" y="238.29" width="5.4" height="45.31" fill="url(#pO)" />
<rect x="513.57" y="227.55" width="5.4" height="56.05" fill="url(#pR)" />
<rect x="520.22" y="231.10" width="5.4" height="52.50" fill="url(#pG)" stroke="#5aa8d8" stroke-width="0.7"/>
<rect x="526.87" y="224.51" width="5.4" height="59.09" fill="url(#pB)" stroke="#5aa8d8" stroke-width="0.7"/>
<g stroke="#e3e3e3" stroke-width="0.8">
<line x1="355.8" x2="537.8" y1="283.60" y2="283.60"/>
<line x1="294.4" x2="537.8" y1="291.20" y2="291.20"/>
<line x1="294.4" x2="537.8" y1="299.20" y2="299.20"/>
<line x1="294.4" x2="537.8" y1="307.20" y2="307.20"/>
<line x1="294.4" x2="537.8" y1="315.20" y2="315.20"/>
<line x1="294.4" x2="537.8" y1="323.20" y2="323.20"/>
<line x1="294.4" x2="294.4" y1="291.20" y2="323.20"/>
<line x1="355.80" x2="355.80" y1="283.60" y2="323.20"/>
<line x1="392.20" x2="392.20" y1="283.60" y2="323.20"/>
<line x1="428.60" x2="428.60" y1="283.60" y2="323.20"/>
<line x1="465.00" x2="465.00" y1="283.60" y2="323.20"/>
<line x1="501.40" x2="501.40" y1="283.60" y2="323.20"/>
<line x1="537.80" x2="537.80" y1="283.60" y2="323.20"/>
</g>
<text x="374.00" y="289.55" font-size="5.65" text-anchor="middle" textLength="17.29" lengthAdjust="spacingAndGlyphs" fill="#6c6c6c">2 nodes</text>
<text x="374.00" y="297.46" font-size="5.65" text-anchor="middle" textLength="28.37" lengthAdjust="spacingAndGlyphs" fill="#6c6c6c">0.002541637</text>
<text x="374.00" y="305.46" font-size="5.65" text-anchor="middle" textLength="28.37" lengthAdjust="spacingAndGlyphs" fill="#6c6c6c">0.003087497</text>
<text x="374.00" y="313.46" font-size="5.65" text-anchor="middle" textLength="28.37" lengthAdjust="spacingAndGlyphs" fill="#6c6c6c">0.002857447</text>
<text x="374.00" y="321.46" font-size="5.65" text-anchor="middle" textLength="28.37" lengthAdjust="spacingAndGlyphs" fill="#6c6c6c">0.003213739</text>
<text x="410.40" y="289.55" font-size="5.65" text-anchor="middle" textLength="17.29" lengthAdjust="spacingAndGlyphs" fill="#6c6c6c">3 nodes</text>
<text x="410.40" y="297.46" font-size="5.65" text-anchor="middle" textLength="28.37" lengthAdjust="spacingAndGlyphs" fill="#6c6c6c">0.002963185</text>
<text x="410.40" y="305.46" font-size="5.65" text-anchor="middle" textLength="28.37" lengthAdjust="spacingAndGlyphs" fill="#6c6c6c">0.003562856</text>
<text x="410.40" y="313.46" font-size="5.65" text-anchor="middle" textLength="28.37" lengthAdjust="spacingAndGlyphs" fill="#6c6c6c">0.003178883</text>
<text x="410.40" y="321.46" font-size="5.65" text-anchor="middle" textLength="25.67" lengthAdjust="spacingAndGlyphs" fill="#6c6c6c">0.00374372</text>
<text x="446.80" y="289.55" font-size="5.65" text-anchor="middle" textLength="17.29" lengthAdjust="spacingAndGlyphs" fill="#6c6c6c">4 nodes</text>
<text x="446.80" y="297.46" font-size="5.65" text-anchor="middle" textLength="28.37" lengthAdjust="spacingAndGlyphs" fill="#6c6c6c">0.003336716</text>
<text x="446.80" y="305.46" font-size="5.65" text-anchor="middle" textLength="28.37" lengthAdjust="spacingAndGlyphs" fill="#6c6c6c">0.004015875</text>
<text x="446.80" y="313.46" font-size="5.65" text-anchor="middle" textLength="28.37" lengthAdjust="spacingAndGlyphs" fill="#6c6c6c">0.003776431</text>
<text x="446.80" y="321.46" font-size="5.65" text-anchor="middle" textLength="25.67" lengthAdjust="spacingAndGlyphs" fill="#6c6c6c">0.00443821</text>
<text x="483.20" y="289.55" font-size="5.65" text-anchor="middle" textLength="17.29" lengthAdjust="spacingAndGlyphs" fill="#6c6c6c">5 nodes</text>
<text x="483.20" y="297.46" font-size="5.65" text-anchor="middle" textLength="28.37" lengthAdjust="spacingAndGlyphs" fill="#6c6c6c">0.003772235</text>
<text x="483.20" y="305.46" font-size="5.65" text-anchor="middle" textLength="25.67" lengthAdjust="spacingAndGlyphs" fill="#6c6c6c">0.00447464</text>
<text x="483.20" y="313.46" font-size="5.65" text-anchor="middle" textLength="28.37" lengthAdjust="spacingAndGlyphs" fill="#6c6c6c">0.004204679</text>
<text x="483.20" y="321.46" font-size="5.65" text-anchor="middle" textLength="28.37" lengthAdjust="spacingAndGlyphs" fill="#6c6c6c">0.004880571</text>
<text x="519.60" y="289.55" font-size="5.65" text-anchor="middle" textLength="17.29" lengthAdjust="spacingAndGlyphs" fill="#6c6c6c">6 nodes</text>
<text x="519.60" y="297.46" font-size="5.65" text-anchor="middle" textLength="28.37" lengthAdjust="spacingAndGlyphs" fill="#6c6c6c">0.004208493</text>
<text x="519.60" y="305.46" font-size="5.65" text-anchor="middle" textLength="25.67" lengthAdjust="spacingAndGlyphs" fill="#6c6c6c">0.00520606</text>
<text x="519.60" y="313.46" font-size="5.65" text-anchor="middle" textLength="28.37" lengthAdjust="spacingAndGlyphs" fill="#6c6c6c">0.004876161</text>
<text x="519.60" y="321.46" font-size="5.65" text-anchor="middle" textLength="25.31" lengthAdjust="spacingAndGlyphs" fill="#6c6c6c">0.00548811</text>
<rect x="296.20" y="293.70" width="3.0" height="3.0" fill="url(#pO)" />
<text x="300.40" y="297.46" font-size="5.65" textLength="50.23" lengthAdjust="spacingAndGlyphs" fill="#6c6c6c">60 1-gram &amp; 80 2-gram</text>
<rect x="296.20" y="301.70" width="3.0" height="3.0" fill="url(#pR)" />
<text x="300.40" y="305.46" font-size="5.65" textLength="52.93" lengthAdjust="spacingAndGlyphs" fill="#6c6c6c">60 1-gram &amp; 120 2-gram</text>
<rect x="296.20" y="309.70" width="3.0" height="3.0" fill="url(#pG)" stroke="#5aa8d8" stroke-width="0.5"/>
<text x="300.40" y="313.46" font-size="5.65" textLength="50.23" lengthAdjust="spacingAndGlyphs" fill="#6c6c6c">80 1-gram &amp; 80 2-gram</text>
<rect x="296.20" y="317.70" width="3.0" height="3.0" fill="url(#pB)" stroke="#5aa8d8" stroke-width="0.5"/>
<text x="300.40" y="321.46" font-size="5.65" textLength="52.93" lengthAdjust="spacingAndGlyphs" fill="#6c6c6c">80 1-gram &amp; 120 2-gram</text>
<rect x="355.80" y="329.00" width="3.2" height="3.2" fill="url(#pO)" />
<text x="361.00" y="332.76" font-size="6.0" textLength="51.48" lengthAdjust="spacingAndGlyphs" fill="#4a4a4a" stroke="#555" stroke-width="0.22">60 1-gram &amp; 80 2-gram</text>
<rect x="416.30" y="329.00" width="3.2" height="3.2" fill="url(#pR)" />
<text x="421.50" y="332.76" font-size="6.0" textLength="54.25" lengthAdjust="spacingAndGlyphs" fill="#4a4a4a" stroke="#555" stroke-width="0.22">60 1-gram &amp; 120 2-gram</text>
<rect x="355.80" y="339.00" width="3.2" height="3.2" fill="url(#pG)" stroke="#5aa8d8" stroke-width="0.5"/>
<text x="361.00" y="342.76" font-size="6.0" textLength="51.48" lengthAdjust="spacingAndGlyphs" fill="#4a4a4a" stroke="#555" stroke-width="0.22">80 1-gram &amp; 80 2-gram</text>
<rect x="416.30" y="339.00" width="3.2" height="3.2" fill="url(#pB)" stroke="#5aa8d8" stroke-width="0.5"/>
<text x="421.50" y="342.76" font-size="6.0" textLength="54.25" lengthAdjust="spacingAndGlyphs" fill="#4a4a4a" stroke="#555" stroke-width="0.22">80 1-gram &amp; 120 2-gram</text>
<text x="415.10" y="358.10" font-size="11.44" textLength="10.90" lengthAdjust="spacingAndGlyphs" fill="#111" style="font-family:'Liberation Serif', 'Times New Roman', serif">(f)</text>
<rect x="6.0" y="363.0" width="257.2" height="160.5" fill="#fff" stroke="#d9d9d9" stroke-width="1"/>
<text x="39.40" y="375.00" font-size="7.6" textLength="189.60" lengthAdjust="spacingAndGlyphs" fill="#505050">Evaluation Energy Consumption-Testing Time of the</text>
<text x="34.40" y="385.40" font-size="7.6" textLength="199.50" lengthAdjust="spacingAndGlyphs" fill="#505050">(N-gram) Methods for MLP Performance 10 / Iteration</text>
<text transform="translate(21.60,457.80) rotate(-90)" x="0" y="0" font-size="8.6" textLength="62.10" lengthAdjust="spacingAndGlyphs" fill="#6a6a6a">Energy (Joule)</text>
<line x1="75.8" x2="258.0" y1="394.40" y2="394.40" stroke="#e3e3e3" stroke-width="0.7"/>
<text x="71.00" y="396.42" font-size="5.6" text-anchor="end" textLength="12.33" lengthAdjust="spacingAndGlyphs" fill="#505050" font-weight="bold">0.012</text>
<line x1="75.8" x2="258.0" y1="405.43" y2="405.43" stroke="#e3e3e3" stroke-width="0.7"/>
<text x="71.00" y="407.45" font-size="5.6" text-anchor="end" textLength="9.59" lengthAdjust="spacingAndGlyphs" fill="#505050" font-weight="bold">0.01</text>
<line x1="75.8" x2="258.0" y1="416.47" y2="416.47" stroke="#e3e3e3" stroke-width="0.7"/>
<text x="71.00" y="418.48" font-size="5.6" text-anchor="end" textLength="12.33" lengthAdjust="spacingAndGlyphs" fill="#505050" font-weight="bold">0.008</text>
<line x1="75.8" x2="258.0" y1="427.50" y2="427.50" stroke="#e3e3e3" stroke-width="0.7"/>
<text x="71.00" y="429.52" font-size="5.6" text-anchor="end" textLength="12.33" lengthAdjust="spacingAndGlyphs" fill="#505050" font-weight="bold">0.006</text>
<line x1="75.8" x2="258.0" y1="438.53" y2="438.53" stroke="#e3e3e3" stroke-width="0.7"/>
<text x="71.00" y="440.55" font-size="5.6" text-anchor="end" textLength="12.33" lengthAdjust="spacingAndGlyphs" fill="#505050" font-weight="bold">0.004</text>
<line x1="75.8" x2="258.0" y1="449.57" y2="449.57" stroke="#e3e3e3" stroke-width="0.7"/>
<text x="71.00" y="451.58" font-size="5.6" text-anchor="end" textLength="12.33" lengthAdjust="spacingAndGlyphs" fill="#505050" font-weight="bold">0.002</text>
<text x="71.00" y="462.62" font-size="5.6" text-anchor="end" textLength="2.74" lengthAdjust="spacingAndGlyphs" fill="#505050" font-weight="bold">0</text>
<rect x="81.34" y="432.56" width="5.4" height="28.04" fill="url(#pO)" />
<rect x="88.00" y="426.53" width="5.4" height="34.07" fill="url(#pR)" />
<rect x="94.64" y="429.07" width="5.4" height="31.53" fill="url(#pG)" stroke="#5aa8d8" stroke-width="0.7"/>
<rect x="101.30" y="425.14" width="5.4" height="35.46" fill="url(#pB)" stroke="#5aa8d8" stroke-width="0.7"/>
<rect x="117.78" y="427.91" width="5.4" height="32.69" fill="url(#pO)" />
<rect x="124.43" y="421.29" width="5.4" height="39.31" fill="url(#pR)" />
<rect x="131.08" y="425.53" width="5.4" height="35.07" fill="url(#pG)" stroke="#5aa8d8" stroke-width="0.7"/>
<rect x="137.73" y="419.29" width="5.4" height="41.31" fill="url(#pB)" stroke="#5aa8d8" stroke-width="0.7"/>
<rect x="154.22" y="423.78" width="5.4" height="36.82" fill="url(#pO)" />
<rect x="160.87" y="416.29" width="5.4" height="44.31" fill="url(#pR)" />
<rect x="167.52" y="418.93" width="5.4" height="41.67" fill="url(#pG)" stroke="#5aa8d8" stroke-width="0.7"/>
<rect x="174.17" y="411.63" width="5.4" height="48.97" fill="url(#pB)" stroke="#5aa8d8" stroke-width="0.7"/>
<rect x="190.66" y="418.98" width="5.4" height="41.62" fill="url(#pO)" />
<rect x="197.31" y="411.23" width="5.4" height="49.37" fill="url(#pR)" />
<rect x="203.96" y="414.21" width="5.4" height="46.39" fill="url(#pG)" stroke="#5aa8d8" stroke-width="0.7"/>
<rect x="210.61" y="406.75" width="5.4" height="53.85" fill="url(#pB)" stroke="#5aa8d8" stroke-width="0.7"/>
<rect x="227.10" y="414.17" width="5.4" height="46.43" fill="url(#pO)" />
<rect x="233.75" y="403.16" width="5.4" height="57.44" fill="url(#pR)" />
<rect x="240.40" y="406.80" width="5.4" height="53.80" fill="url(#pG)" stroke="#5aa8d8" stroke-width="0.7"/>
<rect x="247.05" y="400.05" width="5.4" height="60.55" fill="url(#pB)" stroke="#5aa8d8" stroke-width="0.7"/>
<g stroke="#e3e3e3" stroke-width="0.8">
<line x1="75.8" x2="258.0" y1="460.60" y2="460.60"/>
<line x1="14.4" x2="258.0" y1="467.80" y2="467.80"/>
<line x1="14.4" x2="258.0" y1="475.90" y2="475.90"/>
<line x1="14.4" x2="258.0" y1="484.00" y2="484.00"/>
<line x1="14.4" x2="258.0" y1="492.10" y2="492.10"/>
<line x1="14.4" x2="258.0" y1="500.20" y2="500.20"/>
<line x1="14.4" x2="14.4" y1="467.80" y2="500.20"/>
<line x1="75.80" x2="75.80" y1="460.60" y2="500.20"/>
<line x1="112.24" x2="112.24" y1="460.60" y2="500.20"/>
<line x1="148.68" x2="148.68" y1="460.60" y2="500.20"/>
<line x1="185.12" x2="185.12" y1="460.60" y2="500.20"/>
<line x1="221.56" x2="221.56" y1="460.60" y2="500.20"/>
<line x1="258.00" x2="258.00" y1="460.60" y2="500.20"/>
</g>
<text x="94.02" y="466.35" font-size="5.65" text-anchor="middle" textLength="17.29" lengthAdjust="spacingAndGlyphs" fill="#6c6c6c">2 nodes</text>
<text x="94.02" y="474.11" font-size="5.65" text-anchor="middle" textLength="28.37" lengthAdjust="spacingAndGlyphs" fill="#6c6c6c">0.005083275</text>
<text x="94.02" y="482.21" font-size="5.65" text-anchor="middle" textLength="28.37" lengthAdjust="spacingAndGlyphs" fill="#6c6c6c">0.006174994</text>
<text x="94.02" y="490.31" font-size="5.65" text-anchor="middle" textLength="28.37" lengthAdjust="spacingAndGlyphs" fill="#6c6c6c">0.005714893</text>
<text x="94.02" y="498.41" font-size="5.65" text-anchor="middle" textLength="28.37" lengthAdjust="spacingAndGlyphs" fill="#6c6c6c">0.006427479</text>
<text x="130.46" y="466.35" font-size="5.65" text-anchor="middle" textLength="17.29" lengthAdjust="spacingAndGlyphs" fill="#6c6c6c">3 nodes</text>
<text x="130.46" y="474.11" font-size="5.65" text-anchor="middle" textLength="28.37" lengthAdjust="spacingAndGlyphs" fill="#6c6c6c">0.005926371</text>
<text x="130.46" y="482.21" font-size="5.65" text-anchor="middle" textLength="28.01" lengthAdjust="spacingAndGlyphs" fill="#6c6c6c">0.007125711</text>
<text x="130.46" y="490.31" font-size="5.65" text-anchor="middle" textLength="28.37" lengthAdjust="spacingAndGlyphs" fill="#6c6c6c">0.006357765</text>
<text x="130.46" y="498.41" font-size="5.65" text-anchor="middle" textLength="25.67" lengthAdjust="spacingAndGlyphs" fill="#6c6c6c">0.00748744</text>
<text x="166.90" y="466.35" font-size="5.65" text-anchor="middle" textLength="17.29" lengthAdjust="spacingAndGlyphs" fill="#6c6c6c">4 nodes</text>
<text x="166.90" y="474.11" font-size="5.65" text-anchor="middle" textLength="28.37" lengthAdjust="spacingAndGlyphs" fill="#6c6c6c">0.006673431</text>
<text x="166.90" y="482.21" font-size="5.65" text-anchor="middle" textLength="25.67" lengthAdjust="spacingAndGlyphs" fill="#6c6c6c">0.00803175</text>
<text x="166.90" y="490.31" font-size="5.65" text-anchor="middle" textLength="28.37" lengthAdjust="spacingAndGlyphs" fill="#6c6c6c">0.007552862</text>
<text x="166.90" y="498.41" font-size="5.65" text-anchor="middle" textLength="28.37" lengthAdjust="spacingAndGlyphs" fill="#6c6c6c">0.008876419</text>
<text x="203.34" y="466.35" font-size="5.65" text-anchor="middle" textLength="17.29" lengthAdjust="spacingAndGlyphs" fill="#6c6c6c">5 nodes</text>
<text x="203.34" y="474.11" font-size="5.65" text-anchor="middle" textLength="25.67" lengthAdjust="spacingAndGlyphs" fill="#6c6c6c">0.00754447</text>
<text x="203.34" y="482.21" font-size="5.65" text-anchor="middle" textLength="25.67" lengthAdjust="spacingAndGlyphs" fill="#6c6c6c">0.00894928</text>
<text x="203.34" y="490.31" font-size="5.65" text-anchor="middle" textLength="28.37" lengthAdjust="spacingAndGlyphs" fill="#6c6c6c">0.008409357</text>
<text x="203.34" y="498.41" font-size="5.65" text-anchor="middle" textLength="28.01" lengthAdjust="spacingAndGlyphs" fill="#6c6c6c">0.009761143</text>
<text x="239.78" y="466.35" font-size="5.65" text-anchor="middle" textLength="17.29" lengthAdjust="spacingAndGlyphs" fill="#6c6c6c">6 nodes</text>
<text x="239.78" y="474.11" font-size="5.65" text-anchor="middle" textLength="28.37" lengthAdjust="spacingAndGlyphs" fill="#6c6c6c">0.008416986</text>
<text x="239.78" y="482.21" font-size="5.65" text-anchor="middle" textLength="28.37" lengthAdjust="spacingAndGlyphs" fill="#6c6c6c">0.010412121</text>
<text x="239.78" y="490.31" font-size="5.65" text-anchor="middle" textLength="28.37" lengthAdjust="spacingAndGlyphs" fill="#6c6c6c">0.009752321</text>
<text x="239.78" y="498.41" font-size="5.65" text-anchor="middle" textLength="28.37" lengthAdjust="spacingAndGlyphs" fill="#6c6c6c">0.010976219</text>
<rect x="16.20" y="470.35" width="3.0" height="3.0" fill="url(#pO)" />
<text x="20.40" y="474.11" font-size="5.65" textLength="50.23" lengthAdjust="spacingAndGlyphs" fill="#6c6c6c">60 1-gram &amp; 80 2-gram</text>
<rect x="16.20" y="478.45" width="3.0" height="3.0" fill="url(#pR)" />
<text x="20.40" y="482.21" font-size="5.65" textLength="52.93" lengthAdjust="spacingAndGlyphs" fill="#6c6c6c">60 1-gram &amp; 120 2-gram</text>
<rect x="16.20" y="486.55" width="3.0" height="3.0" fill="url(#pG)" stroke="#5aa8d8" stroke-width="0.5"/>
<text x="20.40" y="490.31" font-size="5.65" textLength="50.23" lengthAdjust="spacingAndGlyphs" fill="#6c6c6c">80 1-gram &amp; 80 2-gram</text>
<rect x="16.20" y="494.65" width="3.0" height="3.0" fill="url(#pB)" stroke="#5aa8d8" stroke-width="0.5"/>
<text x="20.40" y="498.41" font-size="5.65" textLength="52.93" lengthAdjust="spacingAndGlyphs" fill="#6c6c6c">80 1-gram &amp; 120 2-gram</text>
<rect x="76.50" y="505.20" width="3.2" height="3.2" fill="url(#pO)" />
<text x="81.70" y="508.96" font-size="6.0" textLength="51.48" lengthAdjust="spacingAndGlyphs" fill="#4a4a4a" stroke="#555" stroke-width="0.22">60 1-gram &amp; 80 2-gram</text>
<rect x="136.30" y="505.20" width="3.2" height="3.2" fill="url(#pR)" />
<text x="141.50" y="508.96" font-size="6.0" textLength="54.25" lengthAdjust="spacingAndGlyphs" fill="#4a4a4a" stroke="#555" stroke-width="0.22">60 1-gram &amp; 120 2-gram</text>
<rect x="76.50" y="515.90" width="3.2" height="3.2" fill="url(#pG)" stroke="#5aa8d8" stroke-width="0.5"/>
<text x="81.70" y="519.66" font-size="6.0" textLength="51.48" lengthAdjust="spacingAndGlyphs" fill="#4a4a4a" stroke="#555" stroke-width="0.22">80 1-gram &amp; 80 2-gram</text>
<rect x="136.30" y="515.90" width="3.2" height="3.2" fill="url(#pB)" stroke="#5aa8d8" stroke-width="0.5"/>
<text x="141.50" y="519.66" font-size="6.0" textLength="54.25" lengthAdjust="spacingAndGlyphs" fill="#4a4a4a" stroke="#555" stroke-width="0.22">80 1-gram &amp; 120 2-gram</text>
<text x="138.20" y="536.20" font-size="11.44" textLength="13.90" lengthAdjust="spacingAndGlyphs" fill="#111" style="font-family:'Liberation Serif', 'Times New Roman', serif">(<tspan font-weight="bold">g</tspan>)</text>
</svg>
</body></html>
